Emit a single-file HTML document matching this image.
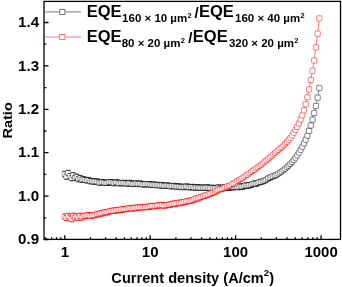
<!DOCTYPE html>
<html><head><meta charset="utf-8"><title>Ratio vs current density</title>
<style>
html,body{margin:0;padding:0;background:#fff;}
svg{display:block;font-family:"Liberation Sans",sans-serif;font-weight:bold;fill:#000;}
</style></head><body>
<svg width="342" height="287" viewBox="0 0 342 287">
<rect width="342" height="287" fill="#fff"/>
<path d="M64.8,174.1L66.5,176.7L68.2,172.9L69.9,176.1L71.6,178.0L73.3,175.3L75.1,178.0L76.8,176.8L78.5,179.2L80.2,178.2L81.9,179.7L83.6,179.3L85.3,180.0L87.0,180.4L88.7,180.1L90.4,181.2L92.1,181.2L93.8,181.6L95.6,181.3L97.3,181.6L99.0,182.4L100.7,182.7L102.4,182.1L104.1,182.6L105.8,182.8L107.5,182.9L109.2,182.2L110.9,182.2L112.6,182.4L114.3,183.1L116.1,182.4L117.8,182.8L119.5,183.3L121.2,183.0L122.9,183.2L124.6,182.9L126.3,183.3L128.0,183.5L129.7,182.9L131.4,183.6L133.1,183.9L134.8,183.8L136.6,183.5L138.3,184.0L140.0,183.6L141.7,184.0L143.4,184.4L145.1,184.1L146.8,184.2L148.5,184.2L150.2,184.2L151.9,184.9L153.6,184.7L155.3,184.8L157.1,185.1L158.8,184.9L160.5,185.4L162.2,185.2L163.9,185.7L165.6,185.9L167.3,185.5L169.0,185.9L170.7,186.2L172.4,186.1L174.1,185.9L175.8,186.4L177.6,186.6L179.3,186.6L181.0,187.0L182.7,186.8L184.4,187.1L186.1,186.7L187.8,186.7L189.5,187.3L191.2,187.1L192.9,187.0L194.6,187.6L196.3,187.3L198.1,187.6L199.8,187.7L201.5,187.8L203.2,187.7L204.9,187.9L206.6,187.6L208.3,187.6L210.0,188.1L211.7,187.8L213.4,188.2L215.1,188.0L216.8,188.0L218.6,187.6L220.3,188.2L222.0,187.8L223.7,187.8L225.4,187.6L227.1,187.4L228.8,187.8L230.5,187.5L232.2,186.9L233.9,187.3L235.6,186.9L237.3,187.0L239.1,187.1L240.8,186.5L242.5,186.7L244.2,186.2L245.9,185.4L247.6,185.7L249.3,185.2L251.0,185.0L252.7,184.0L254.4,183.6L256.1,183.7L257.8,183.0L259.6,182.0L261.3,181.9L263.0,181.3L264.7,180.7L266.4,179.8L268.1,178.6L269.8,177.7L271.5,177.0L273.2,176.2L274.9,175.5L276.6,175.0L278.4,173.7L280.1,172.6L281.8,171.5L283.5,170.1L285.2,168.9L286.9,167.3L288.6,165.7L290.3,164.0L292.0,162.2L293.7,160.1L295.4,157.7L297.1,155.2L298.9,152.7L300.6,149.9L302.3,146.8L304.0,143.4L305.7,139.7L307.4,135.6L309.1,130.8L310.8,125.5L312.5,119.6L314.2,113.0L315.9,106.0L317.6,97.7L319.4,88.0" fill="none" stroke="#1c1c1c" stroke-width="0.55"/>
<g fill="#fff" stroke="#1c1c1c" stroke-width="0.55">
<rect x="62.20" y="171.46" width="5.2" height="5.2" rx="0.5" stroke-width="0.42"/><path d="M62.70,171.46h4.20M62.70,176.66h4.20" stroke-width="0.85"/><rect x="63.91" y="174.07" width="5.2" height="5.2" rx="0.5" stroke-width="0.42"/><path d="M64.41,174.07h4.20M64.41,179.27h4.20" stroke-width="0.85"/><rect x="65.62" y="170.34" width="5.2" height="5.2" rx="0.62" stroke-width="0.43"/><path d="M66.24,170.34h3.96M66.24,175.54h3.96" stroke-width="0.84"/><rect x="67.33" y="173.54" width="5.2" height="5.2" rx="0.97" stroke-width="0.44"/><path d="M68.30,173.54h3.26M68.30,178.74h3.26" stroke-width="0.8"/><rect x="69.03" y="175.45" width="5.2" height="5.2" rx="0.73" stroke-width="0.43"/><path d="M69.76,175.45h3.74M69.76,180.65h3.74" stroke-width="0.82"/><rect x="70.74" y="172.71" width="5.2" height="5.2" rx="0.52" stroke-width="0.42"/><path d="M71.26,172.71h4.16M71.26,177.91h4.16" stroke-width="0.85"/><rect x="72.45" y="175.36" width="5.2" height="5.2" rx="0.51" stroke-width="0.42"/><path d="M72.96,175.36h4.18M72.96,180.56h4.18" stroke-width="0.85"/><rect x="74.16" y="174.20" width="5.2" height="5.2" rx="0.51" stroke-width="0.42"/><path d="M74.67,174.20h4.18M74.67,179.40h4.18" stroke-width="0.85"/><rect x="75.87" y="176.58" width="5.2" height="5.2" rx="0.5" stroke-width="0.42"/><path d="M76.37,176.58h4.20M76.37,181.78h4.20" stroke-width="0.85"/><rect x="77.58" y="175.57" width="5.2" height="5.2" rx="0.5" stroke-width="0.42"/><path d="M78.08,175.57h4.20M78.08,180.77h4.20" stroke-width="0.85"/><rect x="79.28" y="177.11" width="5.2" height="5.2" rx="0.51" stroke-width="0.42"/><path d="M79.79,177.11h4.18M79.79,182.31h4.18" stroke-width="0.85"/><rect x="80.99" y="176.66" width="5.2" height="5.2" rx="0.51" stroke-width="0.42"/><path d="M81.50,176.66h4.18M81.50,181.86h4.18" stroke-width="0.85"/><rect x="82.70" y="177.36" width="5.2" height="5.2" rx="0.5" stroke-width="0.42"/><path d="M83.20,177.36h4.20M83.20,182.56h4.20" stroke-width="0.85"/><rect x="84.41" y="177.77" width="5.2" height="5.2" rx="0.5" stroke-width="0.42"/><path d="M84.91,177.77h4.20M84.91,182.97h4.20" stroke-width="0.85"/><rect x="86.12" y="177.48" width="5.2" height="5.2" rx="0.5" stroke-width="0.42"/><path d="M86.62,177.48h4.20M86.62,182.68h4.20" stroke-width="0.85"/><rect x="87.83" y="178.58" width="5.2" height="5.2" rx="0.5" stroke-width="0.42"/><path d="M88.33,178.58h4.20M88.33,183.78h4.20" stroke-width="0.85"/><rect x="89.53" y="178.57" width="5.2" height="5.2" rx="0.5" stroke-width="0.42"/><path d="M90.03,178.57h4.20M90.03,183.77h4.20" stroke-width="0.85"/><rect x="91.24" y="178.99" width="5.2" height="5.2" rx="0.5" stroke-width="0.42"/><path d="M91.74,178.99h4.20M91.74,184.19h4.20" stroke-width="0.85"/><rect x="92.95" y="178.75" width="5.2" height="5.2" rx="0.5" stroke-width="0.42"/><path d="M93.45,178.75h4.20M93.45,183.95h4.20" stroke-width="0.85"/><rect x="94.66" y="179.01" width="5.2" height="5.2" rx="0.5" stroke-width="0.42"/><path d="M95.16,179.01h4.20M95.16,184.21h4.20" stroke-width="0.85"/><rect x="96.37" y="179.79" width="5.2" height="5.2" rx="0.5" stroke-width="0.42"/><path d="M96.87,179.79h4.20M96.87,184.99h4.20" stroke-width="0.85"/><rect x="98.08" y="180.08" width="5.2" height="5.2" rx="0.5" stroke-width="0.42"/><path d="M98.58,180.08h4.20M98.58,185.28h4.20" stroke-width="0.85"/><rect x="99.78" y="179.48" width="5.2" height="5.2" rx="0.5" stroke-width="0.42"/><path d="M100.28,179.48h4.20M100.28,184.68h4.20" stroke-width="0.85"/><rect x="101.49" y="179.96" width="5.2" height="5.2" rx="0.5" stroke-width="0.42"/><path d="M101.99,179.96h4.20M101.99,185.16h4.20" stroke-width="0.85"/><rect x="103.20" y="180.22" width="5.2" height="5.2" rx="0.5" stroke-width="0.42"/><path d="M103.70,180.22h4.20M103.70,185.42h4.20" stroke-width="0.85"/><rect x="104.91" y="180.30" width="5.2" height="5.2" rx="0.5" stroke-width="0.42"/><path d="M105.41,180.30h4.20M105.41,185.50h4.20" stroke-width="0.85"/><rect x="106.62" y="179.56" width="5.2" height="5.2" rx="0.5" stroke-width="0.42"/><path d="M107.12,179.56h4.20M107.12,184.76h4.20" stroke-width="0.85"/><rect x="108.33" y="179.59" width="5.2" height="5.2" rx="0.5" stroke-width="0.42"/><path d="M108.83,179.59h4.20M108.83,184.79h4.20" stroke-width="0.85"/><rect x="110.04" y="179.77" width="5.2" height="5.2" rx="0.5" stroke-width="0.42"/><path d="M110.54,179.77h4.20M110.54,184.97h4.20" stroke-width="0.85"/><rect x="111.74" y="180.49" width="5.2" height="5.2" rx="0.5" stroke-width="0.42"/><path d="M112.24,180.49h4.20M112.24,185.69h4.20" stroke-width="0.85"/><rect x="113.45" y="179.81" width="5.2" height="5.2" rx="0.5" stroke-width="0.42"/><path d="M113.95,179.81h4.20M113.95,185.01h4.20" stroke-width="0.85"/><rect x="115.16" y="180.15" width="5.2" height="5.2" rx="0.5" stroke-width="0.42"/><path d="M115.66,180.15h4.20M115.66,185.35h4.20" stroke-width="0.85"/><rect x="116.87" y="180.70" width="5.2" height="5.2" rx="0.5" stroke-width="0.42"/><path d="M117.37,180.70h4.20M117.37,185.90h4.20" stroke-width="0.85"/><rect x="118.58" y="180.37" width="5.2" height="5.2" rx="0.5" stroke-width="0.42"/><path d="M119.08,180.37h4.20M119.08,185.57h4.20" stroke-width="0.85"/><rect x="120.29" y="180.58" width="5.2" height="5.2" rx="0.5" stroke-width="0.42"/><path d="M120.79,180.58h4.20M120.79,185.78h4.20" stroke-width="0.85"/><rect x="121.99" y="180.32" width="5.2" height="5.2" rx="0.5" stroke-width="0.42"/><path d="M122.49,180.32h4.20M122.49,185.52h4.20" stroke-width="0.85"/><rect x="123.70" y="180.73" width="5.2" height="5.2" rx="0.5" stroke-width="0.42"/><path d="M124.20,180.73h4.20M124.20,185.93h4.20" stroke-width="0.85"/><rect x="125.41" y="180.93" width="5.2" height="5.2" rx="0.5" stroke-width="0.42"/><path d="M125.91,180.93h4.20M125.91,186.13h4.20" stroke-width="0.85"/><rect x="127.12" y="180.32" width="5.2" height="5.2" rx="0.5" stroke-width="0.42"/><path d="M127.62,180.32h4.20M127.62,185.52h4.20" stroke-width="0.85"/><rect x="128.83" y="181.03" width="5.2" height="5.2" rx="0.5" stroke-width="0.42"/><path d="M129.33,181.03h4.20M129.33,186.23h4.20" stroke-width="0.85"/><rect x="130.54" y="181.32" width="5.2" height="5.2" rx="0.5" stroke-width="0.42"/><path d="M131.04,181.32h4.20M131.04,186.52h4.20" stroke-width="0.85"/><rect x="132.24" y="181.21" width="5.2" height="5.2" rx="0.5" stroke-width="0.42"/><path d="M132.74,181.21h4.20M132.74,186.41h4.20" stroke-width="0.85"/><rect x="133.95" y="180.92" width="5.2" height="5.2" rx="0.5" stroke-width="0.42"/><path d="M134.45,180.92h4.20M134.45,186.12h4.20" stroke-width="0.85"/><rect x="135.66" y="181.44" width="5.2" height="5.2" rx="0.5" stroke-width="0.42"/><path d="M136.16,181.44h4.20M136.16,186.64h4.20" stroke-width="0.85"/><rect x="137.37" y="180.97" width="5.2" height="5.2" rx="0.5" stroke-width="0.42"/><path d="M137.87,180.97h4.20M137.87,186.17h4.20" stroke-width="0.85"/><rect x="139.08" y="181.36" width="5.2" height="5.2" rx="0.5" stroke-width="0.42"/><path d="M139.58,181.36h4.20M139.58,186.56h4.20" stroke-width="0.85"/><rect x="140.79" y="181.85" width="5.2" height="5.2" rx="0.5" stroke-width="0.42"/><path d="M141.29,181.85h4.20M141.29,187.05h4.20" stroke-width="0.85"/><rect x="142.49" y="181.47" width="5.2" height="5.2" rx="0.5" stroke-width="0.42"/><path d="M142.99,181.47h4.20M142.99,186.67h4.20" stroke-width="0.85"/><rect x="144.20" y="181.59" width="5.2" height="5.2" rx="0.5" stroke-width="0.42"/><path d="M144.70,181.59h4.20M144.70,186.79h4.20" stroke-width="0.85"/><rect x="145.91" y="181.60" width="5.2" height="5.2" rx="0.5" stroke-width="0.42"/><path d="M146.41,181.60h4.20M146.41,186.80h4.20" stroke-width="0.85"/><rect x="147.62" y="181.64" width="5.2" height="5.2" rx="0.5" stroke-width="0.42"/><path d="M148.12,181.64h4.20M148.12,186.84h4.20" stroke-width="0.85"/><rect x="149.33" y="182.29" width="5.2" height="5.2" rx="0.5" stroke-width="0.42"/><path d="M149.83,182.29h4.20M149.83,187.49h4.20" stroke-width="0.85"/><rect x="151.04" y="182.06" width="5.2" height="5.2" rx="0.5" stroke-width="0.42"/><path d="M151.54,182.06h4.20M151.54,187.26h4.20" stroke-width="0.85"/><rect x="152.75" y="182.23" width="5.2" height="5.2" rx="0.5" stroke-width="0.42"/><path d="M153.25,182.23h4.20M153.25,187.43h4.20" stroke-width="0.85"/><rect x="154.45" y="182.53" width="5.2" height="5.2" rx="0.5" stroke-width="0.42"/><path d="M154.95,182.53h4.20M154.95,187.73h4.20" stroke-width="0.85"/><rect x="156.16" y="182.31" width="5.2" height="5.2" rx="0.5" stroke-width="0.42"/><path d="M156.66,182.31h4.20M156.66,187.51h4.20" stroke-width="0.85"/><rect x="157.87" y="182.83" width="5.2" height="5.2" rx="0.5" stroke-width="0.42"/><path d="M158.37,182.83h4.20M158.37,188.03h4.20" stroke-width="0.85"/><rect x="159.58" y="182.62" width="5.2" height="5.2" rx="0.5" stroke-width="0.42"/><path d="M160.08,182.62h4.20M160.08,187.82h4.20" stroke-width="0.85"/><rect x="161.29" y="183.07" width="5.2" height="5.2" rx="0.5" stroke-width="0.42"/><path d="M161.79,183.07h4.20M161.79,188.27h4.20" stroke-width="0.85"/><rect x="163.00" y="183.28" width="5.2" height="5.2" rx="0.5" stroke-width="0.42"/><path d="M163.50,183.28h4.20M163.50,188.48h4.20" stroke-width="0.85"/><rect x="164.70" y="182.94" width="5.2" height="5.2" rx="0.5" stroke-width="0.42"/><path d="M165.20,182.94h4.20M165.20,188.14h4.20" stroke-width="0.85"/><rect x="166.41" y="183.29" width="5.2" height="5.2" rx="0.5" stroke-width="0.42"/><path d="M166.91,183.29h4.20M166.91,188.49h4.20" stroke-width="0.85"/><rect x="168.12" y="183.61" width="5.2" height="5.2" rx="0.5" stroke-width="0.42"/><path d="M168.62,183.61h4.20M168.62,188.81h4.20" stroke-width="0.85"/><rect x="169.83" y="183.51" width="5.2" height="5.2" rx="0.5" stroke-width="0.42"/><path d="M170.33,183.51h4.20M170.33,188.71h4.20" stroke-width="0.85"/><rect x="171.54" y="183.34" width="5.2" height="5.2" rx="0.5" stroke-width="0.42"/><path d="M172.04,183.34h4.20M172.04,188.54h4.20" stroke-width="0.85"/><rect x="173.25" y="183.81" width="5.2" height="5.2" rx="0.5" stroke-width="0.42"/><path d="M173.75,183.81h4.20M173.75,189.01h4.20" stroke-width="0.85"/><rect x="174.95" y="184.00" width="5.2" height="5.2" rx="0.5" stroke-width="0.42"/><path d="M175.45,184.00h4.20M175.45,189.20h4.20" stroke-width="0.85"/><rect x="176.66" y="183.98" width="5.2" height="5.2" rx="0.5" stroke-width="0.42"/><path d="M177.16,183.98h4.20M177.16,189.18h4.20" stroke-width="0.85"/><rect x="178.37" y="184.38" width="5.2" height="5.2" rx="0.5" stroke-width="0.42"/><path d="M178.87,184.38h4.20M178.87,189.58h4.20" stroke-width="0.85"/><rect x="180.08" y="184.21" width="5.2" height="5.2" rx="0.5" stroke-width="0.42"/><path d="M180.58,184.21h4.20M180.58,189.41h4.20" stroke-width="0.85"/><rect x="181.79" y="184.53" width="5.2" height="5.2" rx="0.5" stroke-width="0.42"/><path d="M182.29,184.53h4.20M182.29,189.73h4.20" stroke-width="0.85"/><rect x="183.50" y="184.05" width="5.2" height="5.2" rx="0.5" stroke-width="0.42"/><path d="M184.00,184.05h4.20M184.00,189.25h4.20" stroke-width="0.85"/><rect x="185.20" y="184.14" width="5.2" height="5.2" rx="0.5" stroke-width="0.42"/><path d="M185.70,184.14h4.20M185.70,189.34h4.20" stroke-width="0.85"/><rect x="186.91" y="184.70" width="5.2" height="5.2" rx="0.5" stroke-width="0.42"/><path d="M187.41,184.70h4.20M187.41,189.90h4.20" stroke-width="0.85"/><rect x="188.62" y="184.48" width="5.2" height="5.2" rx="0.5" stroke-width="0.42"/><path d="M189.12,184.48h4.20M189.12,189.68h4.20" stroke-width="0.85"/><rect x="190.33" y="184.39" width="5.2" height="5.2" rx="0.5" stroke-width="0.42"/><path d="M190.83,184.39h4.20M190.83,189.59h4.20" stroke-width="0.85"/><rect x="192.04" y="185.01" width="5.2" height="5.2" rx="0.5" stroke-width="0.42"/><path d="M192.54,185.01h4.20M192.54,190.21h4.20" stroke-width="0.85"/><rect x="193.75" y="184.66" width="5.2" height="5.2" rx="0.5" stroke-width="0.42"/><path d="M194.25,184.66h4.20M194.25,189.86h4.20" stroke-width="0.85"/><rect x="195.46" y="185.01" width="5.2" height="5.2" rx="0.5" stroke-width="0.42"/><path d="M195.96,185.01h4.20M195.96,190.21h4.20" stroke-width="0.85"/><rect x="197.16" y="185.06" width="5.2" height="5.2" rx="0.5" stroke-width="0.42"/><path d="M197.66,185.06h4.20M197.66,190.26h4.20" stroke-width="0.85"/><rect x="198.87" y="185.23" width="5.2" height="5.2" rx="0.5" stroke-width="0.42"/><path d="M199.37,185.23h4.20M199.37,190.43h4.20" stroke-width="0.85"/><rect x="200.58" y="185.10" width="5.2" height="5.2" rx="0.5" stroke-width="0.42"/><path d="M201.08,185.10h4.20M201.08,190.30h4.20" stroke-width="0.85"/><rect x="202.29" y="185.25" width="5.2" height="5.2" rx="0.5" stroke-width="0.42"/><path d="M202.79,185.25h4.20M202.79,190.45h4.20" stroke-width="0.85"/><rect x="204.00" y="185.02" width="5.2" height="5.2" rx="0.5" stroke-width="0.42"/><path d="M204.50,185.02h4.20M204.50,190.22h4.20" stroke-width="0.85"/><rect x="205.71" y="185.02" width="5.2" height="5.2" rx="0.5" stroke-width="0.42"/><path d="M206.21,185.02h4.20M206.21,190.22h4.20" stroke-width="0.85"/><rect x="207.41" y="185.52" width="5.2" height="5.2" rx="0.5" stroke-width="0.42"/><path d="M207.91,185.52h4.20M207.91,190.72h4.20" stroke-width="0.85"/><rect x="209.12" y="185.22" width="5.2" height="5.2" rx="0.5" stroke-width="0.42"/><path d="M209.62,185.22h4.20M209.62,190.42h4.20" stroke-width="0.85"/><rect x="210.83" y="185.62" width="5.2" height="5.2" rx="0.5" stroke-width="0.42"/><path d="M211.33,185.62h4.20M211.33,190.82h4.20" stroke-width="0.85"/><rect x="212.54" y="185.42" width="5.2" height="5.2" rx="0.5" stroke-width="0.42"/><path d="M213.04,185.42h4.20M213.04,190.62h4.20" stroke-width="0.85"/><rect x="214.25" y="185.38" width="5.2" height="5.2" rx="0.5" stroke-width="0.42"/><path d="M214.75,185.38h4.20M214.75,190.58h4.20" stroke-width="0.85"/><rect x="215.96" y="184.99" width="5.2" height="5.2" rx="0.5" stroke-width="0.42"/><path d="M216.46,184.99h4.20M216.46,190.19h4.20" stroke-width="0.85"/><rect x="217.66" y="185.55" width="5.2" height="5.2" rx="0.5" stroke-width="0.42"/><path d="M218.16,185.55h4.20M218.16,190.75h4.20" stroke-width="0.85"/><rect x="219.37" y="185.15" width="5.2" height="5.2" rx="0.5" stroke-width="0.42"/><path d="M219.87,185.15h4.20M219.87,190.35h4.20" stroke-width="0.85"/><rect x="221.08" y="185.20" width="5.2" height="5.2" rx="0.5" stroke-width="0.42"/><path d="M221.58,185.20h4.20M221.58,190.40h4.20" stroke-width="0.85"/><rect x="222.79" y="185.02" width="5.2" height="5.2" rx="0.5" stroke-width="0.42"/><path d="M223.29,185.02h4.20M223.29,190.22h4.20" stroke-width="0.85"/><rect x="224.50" y="184.82" width="5.2" height="5.2" rx="0.5" stroke-width="0.42"/><path d="M225.00,184.82h4.20M225.00,190.02h4.20" stroke-width="0.85"/><rect x="226.21" y="185.20" width="5.2" height="5.2" rx="0.5" stroke-width="0.42"/><path d="M226.71,185.20h4.20M226.71,190.40h4.20" stroke-width="0.85"/><rect x="227.91" y="184.85" width="5.2" height="5.2" rx="0.5" stroke-width="0.42"/><path d="M228.41,184.85h4.20M228.41,190.05h4.20" stroke-width="0.85"/><rect x="229.62" y="184.33" width="5.2" height="5.2" rx="0.5" stroke-width="0.42"/><path d="M230.12,184.33h4.20M230.12,189.53h4.20" stroke-width="0.85"/><rect x="231.33" y="184.66" width="5.2" height="5.2" rx="0.5" stroke-width="0.42"/><path d="M231.83,184.66h4.20M231.83,189.86h4.20" stroke-width="0.85"/><rect x="233.04" y="184.34" width="5.2" height="5.2" rx="0.5" stroke-width="0.42"/><path d="M233.54,184.34h4.20M233.54,189.54h4.20" stroke-width="0.85"/><rect x="234.75" y="184.36" width="5.2" height="5.2" rx="0.5" stroke-width="0.42"/><path d="M235.25,184.36h4.20M235.25,189.56h4.20" stroke-width="0.85"/><rect x="236.46" y="184.47" width="5.2" height="5.2" rx="0.5" stroke-width="0.42"/><path d="M236.96,184.47h4.20M236.96,189.67h4.20" stroke-width="0.85"/><rect x="238.17" y="183.91" width="5.2" height="5.2" rx="0.5" stroke-width="0.42"/><path d="M238.67,183.91h4.20M238.67,189.11h4.20" stroke-width="0.85"/><rect x="239.87" y="184.07" width="5.2" height="5.2" rx="0.5" stroke-width="0.42"/><path d="M240.37,184.07h4.20M240.37,189.27h4.20" stroke-width="0.85"/><rect x="241.58" y="183.58" width="5.2" height="5.2" rx="0.5" stroke-width="0.42"/><path d="M242.08,183.58h4.20M242.08,188.78h4.20" stroke-width="0.85"/><rect x="243.29" y="182.82" width="5.2" height="5.2" rx="0.5" stroke-width="0.42"/><path d="M243.79,182.82h4.20M243.79,188.02h4.20" stroke-width="0.85"/><rect x="245.00" y="183.12" width="5.2" height="5.2" rx="0.5" stroke-width="0.42"/><path d="M245.50,183.12h4.20M245.50,188.32h4.20" stroke-width="0.85"/><rect x="246.71" y="182.58" width="5.2" height="5.2" rx="0.5" stroke-width="0.42"/><path d="M247.21,182.58h4.20M247.21,187.78h4.20" stroke-width="0.85"/><rect x="248.42" y="182.43" width="5.2" height="5.2" rx="0.5" stroke-width="0.42"/><path d="M248.92,182.43h4.20M248.92,187.63h4.20" stroke-width="0.85"/><rect x="250.12" y="181.44" width="5.2" height="5.2" rx="0.53" stroke-width="0.42"/><path d="M250.65,181.44h4.14M250.65,186.64h4.14" stroke-width="0.85"/><rect x="251.83" y="180.99" width="5.2" height="5.2" rx="0.58" stroke-width="0.42"/><path d="M252.41,180.99h4.04M252.41,186.19h4.04" stroke-width="0.84"/><rect x="253.54" y="181.08" width="5.2" height="5.2" rx="0.64" stroke-width="0.43"/><path d="M254.18,181.08h3.92M254.18,186.28h3.92" stroke-width="0.83"/><rect x="255.25" y="180.42" width="5.2" height="5.2" rx="0.7" stroke-width="0.43"/><path d="M255.95,180.42h3.80M255.95,185.62h3.80" stroke-width="0.83"/><rect x="256.96" y="179.44" width="5.2" height="5.2" rx="0.77" stroke-width="0.43"/><path d="M257.73,179.44h3.66M257.73,184.64h3.66" stroke-width="0.82"/><rect x="258.67" y="179.34" width="5.2" height="5.2" rx="0.88" stroke-width="0.44"/><path d="M259.55,179.34h3.44M259.55,184.54h3.44" stroke-width="0.81"/><rect x="260.37" y="178.68" width="5.2" height="5.2" rx="0.99" stroke-width="0.44"/><path d="M261.36,178.68h3.22M261.36,183.88h3.22" stroke-width="0.8"/><rect x="262.08" y="178.08" width="5.2" height="5.2" rx="1.08" stroke-width="0.45"/><path d="M263.16,178.08h3.04M263.16,183.28h3.04" stroke-width="0.79"/><rect x="263.79" y="177.18" width="5.2" height="5.2" rx="1.12" stroke-width="0.45"/><path d="M264.91,177.18h2.96M264.91,182.38h2.96" stroke-width="0.78"/><rect x="265.50" y="175.99" width="5.2" height="5.2" rx="1.14" stroke-width="0.45"/><path d="M266.64,175.99h2.92M266.64,181.19h2.92" stroke-width="0.78"/><rect x="267.21" y="175.15" width="5.2" height="5.2" rx="1.13" stroke-width="0.45"/><path d="M268.34,175.15h2.94M268.34,180.35h2.94" stroke-width="0.78"/><rect x="268.92" y="174.39" width="5.2" height="5.2" rx="1.15" stroke-width="0.45"/><path d="M270.07,174.39h2.90M270.07,179.59h2.90" stroke-width="0.78"/><rect x="270.62" y="173.60" width="5.2" height="5.2" rx="1.23" stroke-width="0.45"/><path d="M271.85,173.60h2.74M271.85,178.80h2.74" stroke-width="0.77"/><rect x="272.33" y="172.90" width="5.2" height="5.2" rx="1.37" stroke-width="0.46"/><path d="M273.70,172.90h2.46M273.70,178.10h2.46" stroke-width="0.76"/><rect x="274.04" y="172.37" width="5.2" height="5.2" rx="1.51" stroke-width="0.47"/><path d="M275.55,172.37h2.18M275.55,177.57h2.18" stroke-width="0.74"/><rect x="275.75" y="171.10" width="5.2" height="5.2" rx="1.63" stroke-width="0.47"/><path d="M277.38,171.10h1.94M277.38,176.30h1.94" stroke-width="0.73"/><rect x="277.46" y="170.00" width="5.2" height="5.2" rx="1.7" stroke-width="0.48"/><path d="M279.16,170.00h1.80M279.16,175.20h1.80" stroke-width="0.72"/><rect x="279.17" y="168.90" width="5.2" height="5.2" rx="1.7" stroke-width="0.49"/><path d="M280.87,168.90h1.80M280.87,174.10h1.80" stroke-width="0.69"/><rect x="280.88" y="167.50" width="5.2" height="5.2" rx="1.7" stroke-width="0.49"/><path d="M282.58,167.50h1.80M282.58,172.70h1.80" stroke-width="0.68"/><rect x="282.58" y="166.30" width="5.2" height="5.2" rx="1.7" stroke-width="0.5"/><path d="M284.28,166.30h1.80M284.28,171.50h1.80" stroke-width="0.66"/><rect x="284.29" y="164.70" width="5.2" height="5.2" rx="1.7" stroke-width="0.52"/><path d="M285.99,164.70h1.80M285.99,169.90h1.80" stroke-width="0.62"/><rect x="286.00" y="163.10" width="5.2" height="5.2" rx="1.7" stroke-width="0.52"/><path d="M287.70,163.10h1.80M287.70,168.30h1.80" stroke-width="0.62"/><rect x="287.71" y="161.40" width="5.2" height="5.2" rx="1.7" stroke-width="0.53"/><path d="M289.41,161.40h1.80M289.41,166.60h1.80" stroke-width="0.6"/><rect x="289.42" y="159.60" width="5.2" height="5.2" rx="1.7" stroke-width="0.55"/><path d="M291.12,159.60h1.80M291.12,164.80h1.80" stroke-width="0.56"/><rect x="291.13" y="157.50" width="5.2" height="5.2" rx="1.7"/><rect x="292.83" y="155.10" width="5.2" height="5.2" rx="1.7"/><rect x="294.54" y="152.60" width="5.2" height="5.2" rx="1.7"/><rect x="296.25" y="150.10" width="5.2" height="5.2" rx="1.63"/><rect x="297.96" y="147.30" width="5.2" height="5.2" rx="1.48"/><rect x="299.67" y="144.20" width="5.2" height="5.2" rx="1.32"/><rect x="301.38" y="140.80" width="5.2" height="5.2" rx="1.17"/><rect x="303.08" y="137.10" width="5.2" height="5.2" rx="1.0"/><rect x="304.79" y="133.00" width="5.2" height="5.2" rx="0.73"/><rect x="306.50" y="128.20" width="5.2" height="5.2" rx="0.7"/><rect x="308.21" y="122.90" width="5.2" height="5.2" rx="0.7"/><rect x="309.92" y="117.00" width="5.2" height="5.2" rx="0.7"/><rect x="311.63" y="110.40" width="5.2" height="5.2" rx="0.7"/><rect x="313.33" y="103.40" width="5.2" height="5.2" rx="0.7"/><rect x="315.04" y="95.10" width="5.2" height="5.2" rx="0.7"/><rect x="316.75" y="85.40" width="5.2" height="5.2" rx="0.7"/>
</g>
<path d="M64.8,216.7L66.5,218.0L68.2,216.0L69.9,217.7L71.6,219.1L73.3,215.8L75.1,217.6L76.8,216.3L78.5,217.6L80.2,215.9L81.9,217.5L83.6,215.9L85.3,216.1L87.0,215.5L88.7,215.3L90.4,215.8L92.1,215.6L93.8,215.0L95.6,215.1L97.3,214.0L99.0,214.1L100.7,213.3L102.4,213.3L104.1,212.5L105.8,212.2L107.5,212.2L109.2,211.5L110.9,211.0L112.6,210.8L114.3,210.7L116.1,210.5L117.8,210.0L119.5,210.1L121.2,209.7L122.9,209.4L124.6,209.0L126.3,209.1L128.0,208.6L129.7,208.0L131.4,208.3L133.1,208.4L134.8,207.8L136.6,208.0L138.3,207.4L140.0,207.5L141.7,207.2L143.4,207.0L145.1,207.2L146.8,206.8L148.5,207.0L150.2,206.5L151.9,206.0L153.6,206.0L155.3,206.2L157.1,205.7L158.8,205.3L160.5,205.3L162.2,205.0L163.9,205.5L165.6,205.3L167.3,205.0L169.0,204.7L170.7,204.6L172.4,203.9L174.1,203.8L175.8,203.7L177.6,203.2L179.3,202.7L181.0,203.1L182.7,202.4L184.4,202.1L186.1,201.6L187.8,201.2L189.5,200.8L191.2,200.7L192.9,200.1L194.6,199.3L196.3,198.4L198.1,198.4L199.8,197.4L201.5,197.1L203.2,196.1L204.9,195.9L206.6,195.1L208.3,194.5L210.0,193.8L211.7,193.1L213.4,192.5L215.1,192.1L216.8,190.7L218.6,190.1L220.3,189.2L222.0,189.0L223.7,188.2L225.4,187.2L227.1,186.7L228.8,186.1L230.5,185.3L232.2,184.0L233.9,183.5L235.6,182.4L237.3,180.8L239.1,180.3L240.8,179.1L242.5,178.0L244.2,176.7L245.9,175.4L247.6,174.7L249.3,173.3L251.0,172.0L252.7,170.7L254.4,169.9L256.1,168.3L257.8,167.2L259.6,165.9L261.3,164.7L263.0,163.3L264.7,161.6L266.4,160.5L268.1,159.0L269.8,157.6L271.5,156.2L273.2,154.5L274.9,152.9L276.6,151.4L278.4,150.0L280.1,148.3L281.8,147.2L283.5,145.4L285.2,143.7L286.9,142.1L288.6,140.1L290.3,137.9L292.0,135.5L293.7,132.8L295.4,129.9L297.1,126.9L298.9,123.4L300.6,119.6L302.3,115.3L304.0,110.3L305.7,104.3L307.4,97.3L309.1,89.4L310.8,80.0L312.5,70.7L314.2,60.5L315.9,47.3L317.6,33.7L319.4,18.4" fill="none" stroke="#fa0f0f" stroke-width="0.55"/>
<g fill="#fff" stroke="#fa0f0f" stroke-width="0.55">
<rect x="62.20" y="214.09" width="5.2" height="5.2" rx="0.5" stroke-width="0.42"/><path d="M62.70,214.09h4.20M62.70,219.29h4.20" stroke-width="0.85"/><rect x="63.91" y="215.36" width="5.2" height="5.2" rx="0.5" stroke-width="0.42"/><path d="M64.41,215.36h4.20M64.41,220.56h4.20" stroke-width="0.85"/><rect x="65.62" y="213.35" width="5.2" height="5.2" rx="0.5" stroke-width="0.42"/><path d="M66.12,213.35h4.20M66.12,218.55h4.20" stroke-width="0.85"/><rect x="67.33" y="215.10" width="5.2" height="5.2" rx="0.5" stroke-width="0.42"/><path d="M67.83,215.10h4.20M67.83,220.30h4.20" stroke-width="0.85"/><rect x="69.03" y="216.50" width="5.2" height="5.2" rx="0.5" stroke-width="0.42"/><path d="M69.53,216.50h4.20M69.53,221.70h4.20" stroke-width="0.85"/><rect x="70.74" y="213.18" width="5.2" height="5.2" rx="0.5" stroke-width="0.42"/><path d="M71.24,213.18h4.20M71.24,218.38h4.20" stroke-width="0.85"/><rect x="72.45" y="215.01" width="5.2" height="5.2" rx="0.5" stroke-width="0.42"/><path d="M72.95,215.01h4.20M72.95,220.21h4.20" stroke-width="0.85"/><rect x="74.16" y="213.70" width="5.2" height="5.2" rx="0.5" stroke-width="0.42"/><path d="M74.66,213.70h4.20M74.66,218.90h4.20" stroke-width="0.85"/><rect x="75.87" y="215.04" width="5.2" height="5.2" rx="0.5" stroke-width="0.42"/><path d="M76.37,215.04h4.20M76.37,220.24h4.20" stroke-width="0.85"/><rect x="77.58" y="213.27" width="5.2" height="5.2" rx="0.5" stroke-width="0.42"/><path d="M78.08,213.27h4.20M78.08,218.47h4.20" stroke-width="0.85"/><rect x="79.28" y="214.87" width="5.2" height="5.2" rx="0.5" stroke-width="0.42"/><path d="M79.78,214.87h4.20M79.78,220.07h4.20" stroke-width="0.85"/><rect x="80.99" y="213.35" width="5.2" height="5.2" rx="0.5" stroke-width="0.42"/><path d="M81.49,213.35h4.20M81.49,218.55h4.20" stroke-width="0.85"/><rect x="82.70" y="213.52" width="5.2" height="5.2" rx="0.5" stroke-width="0.42"/><path d="M83.20,213.52h4.20M83.20,218.72h4.20" stroke-width="0.85"/><rect x="84.41" y="212.95" width="5.2" height="5.2" rx="0.5" stroke-width="0.42"/><path d="M84.91,212.95h4.20M84.91,218.15h4.20" stroke-width="0.85"/><rect x="86.12" y="212.70" width="5.2" height="5.2" rx="0.5" stroke-width="0.42"/><path d="M86.62,212.70h4.20M86.62,217.90h4.20" stroke-width="0.85"/><rect x="87.83" y="213.18" width="5.2" height="5.2" rx="0.5" stroke-width="0.42"/><path d="M88.33,213.18h4.20M88.33,218.38h4.20" stroke-width="0.85"/><rect x="89.53" y="213.01" width="5.2" height="5.2" rx="0.5" stroke-width="0.42"/><path d="M90.03,213.01h4.20M90.03,218.21h4.20" stroke-width="0.85"/><rect x="91.24" y="212.35" width="5.2" height="5.2" rx="0.5" stroke-width="0.42"/><path d="M91.74,212.35h4.20M91.74,217.55h4.20" stroke-width="0.85"/><rect x="92.95" y="212.49" width="5.2" height="5.2" rx="0.5" stroke-width="0.42"/><path d="M93.45,212.49h4.20M93.45,217.69h4.20" stroke-width="0.85"/><rect x="94.66" y="211.37" width="5.2" height="5.2" rx="0.5" stroke-width="0.42"/><path d="M95.16,211.37h4.20M95.16,216.57h4.20" stroke-width="0.85"/><rect x="96.37" y="211.52" width="5.2" height="5.2" rx="0.5" stroke-width="0.42"/><path d="M96.87,211.52h4.20M96.87,216.72h4.20" stroke-width="0.85"/><rect x="98.08" y="210.70" width="5.2" height="5.2" rx="0.5" stroke-width="0.42"/><path d="M98.58,210.70h4.20M98.58,215.90h4.20" stroke-width="0.85"/><rect x="99.78" y="210.69" width="5.2" height="5.2" rx="0.51" stroke-width="0.42"/><path d="M100.29,210.69h4.18M100.29,215.89h4.18" stroke-width="0.85"/><rect x="101.49" y="209.94" width="5.2" height="5.2" rx="0.53" stroke-width="0.42"/><path d="M102.02,209.94h4.14M102.02,215.14h4.14" stroke-width="0.85"/><rect x="103.20" y="209.56" width="5.2" height="5.2" rx="0.52" stroke-width="0.42"/><path d="M103.72,209.56h4.16M103.72,214.76h4.16" stroke-width="0.85"/><rect x="104.91" y="209.63" width="5.2" height="5.2" rx="0.5" stroke-width="0.42"/><path d="M105.41,209.63h4.20M105.41,214.83h4.20" stroke-width="0.85"/><rect x="106.62" y="208.89" width="5.2" height="5.2" rx="0.5" stroke-width="0.42"/><path d="M107.12,208.89h4.20M107.12,214.09h4.20" stroke-width="0.85"/><rect x="108.33" y="208.44" width="5.2" height="5.2" rx="0.5" stroke-width="0.42"/><path d="M108.83,208.44h4.20M108.83,213.64h4.20" stroke-width="0.85"/><rect x="110.04" y="208.25" width="5.2" height="5.2" rx="0.5" stroke-width="0.42"/><path d="M110.54,208.25h4.20M110.54,213.45h4.20" stroke-width="0.85"/><rect x="111.74" y="208.08" width="5.2" height="5.2" rx="0.5" stroke-width="0.42"/><path d="M112.24,208.08h4.20M112.24,213.28h4.20" stroke-width="0.85"/><rect x="113.45" y="207.91" width="5.2" height="5.2" rx="0.5" stroke-width="0.42"/><path d="M113.95,207.91h4.20M113.95,213.11h4.20" stroke-width="0.85"/><rect x="115.16" y="207.39" width="5.2" height="5.2" rx="0.5" stroke-width="0.42"/><path d="M115.66,207.39h4.20M115.66,212.59h4.20" stroke-width="0.85"/><rect x="116.87" y="207.51" width="5.2" height="5.2" rx="0.5" stroke-width="0.42"/><path d="M117.37,207.51h4.20M117.37,212.71h4.20" stroke-width="0.85"/><rect x="118.58" y="207.09" width="5.2" height="5.2" rx="0.5" stroke-width="0.42"/><path d="M119.08,207.09h4.20M119.08,212.29h4.20" stroke-width="0.85"/><rect x="120.29" y="206.81" width="5.2" height="5.2" rx="0.5" stroke-width="0.42"/><path d="M120.79,206.81h4.20M120.79,212.01h4.20" stroke-width="0.85"/><rect x="121.99" y="206.41" width="5.2" height="5.2" rx="0.5" stroke-width="0.42"/><path d="M122.49,206.41h4.20M122.49,211.61h4.20" stroke-width="0.85"/><rect x="123.70" y="206.48" width="5.2" height="5.2" rx="0.5" stroke-width="0.42"/><path d="M124.20,206.48h4.20M124.20,211.68h4.20" stroke-width="0.85"/><rect x="125.41" y="206.03" width="5.2" height="5.2" rx="0.5" stroke-width="0.42"/><path d="M125.91,206.03h4.20M125.91,211.23h4.20" stroke-width="0.85"/><rect x="127.12" y="205.44" width="5.2" height="5.2" rx="0.5" stroke-width="0.42"/><path d="M127.62,205.44h4.20M127.62,210.64h4.20" stroke-width="0.85"/><rect x="128.83" y="205.72" width="5.2" height="5.2" rx="0.5" stroke-width="0.42"/><path d="M129.33,205.72h4.20M129.33,210.92h4.20" stroke-width="0.85"/><rect x="130.54" y="205.77" width="5.2" height="5.2" rx="0.5" stroke-width="0.42"/><path d="M131.04,205.77h4.20M131.04,210.97h4.20" stroke-width="0.85"/><rect x="132.24" y="205.23" width="5.2" height="5.2" rx="0.5" stroke-width="0.42"/><path d="M132.74,205.23h4.20M132.74,210.43h4.20" stroke-width="0.85"/><rect x="133.95" y="205.41" width="5.2" height="5.2" rx="0.5" stroke-width="0.42"/><path d="M134.45,205.41h4.20M134.45,210.61h4.20" stroke-width="0.85"/><rect x="135.66" y="204.82" width="5.2" height="5.2" rx="0.5" stroke-width="0.42"/><path d="M136.16,204.82h4.20M136.16,210.02h4.20" stroke-width="0.85"/><rect x="137.37" y="204.86" width="5.2" height="5.2" rx="0.5" stroke-width="0.42"/><path d="M137.87,204.86h4.20M137.87,210.06h4.20" stroke-width="0.85"/><rect x="139.08" y="204.59" width="5.2" height="5.2" rx="0.5" stroke-width="0.42"/><path d="M139.58,204.59h4.20M139.58,209.79h4.20" stroke-width="0.85"/><rect x="140.79" y="204.45" width="5.2" height="5.2" rx="0.5" stroke-width="0.42"/><path d="M141.29,204.45h4.20M141.29,209.65h4.20" stroke-width="0.85"/><rect x="142.49" y="204.57" width="5.2" height="5.2" rx="0.5" stroke-width="0.42"/><path d="M142.99,204.57h4.20M142.99,209.77h4.20" stroke-width="0.85"/><rect x="144.20" y="204.22" width="5.2" height="5.2" rx="0.5" stroke-width="0.42"/><path d="M144.70,204.22h4.20M144.70,209.42h4.20" stroke-width="0.85"/><rect x="145.91" y="204.40" width="5.2" height="5.2" rx="0.5" stroke-width="0.42"/><path d="M146.41,204.40h4.20M146.41,209.60h4.20" stroke-width="0.85"/><rect x="147.62" y="203.91" width="5.2" height="5.2" rx="0.5" stroke-width="0.42"/><path d="M148.12,203.91h4.20M148.12,209.11h4.20" stroke-width="0.85"/><rect x="149.33" y="203.39" width="5.2" height="5.2" rx="0.5" stroke-width="0.42"/><path d="M149.83,203.39h4.20M149.83,208.59h4.20" stroke-width="0.85"/><rect x="151.04" y="203.44" width="5.2" height="5.2" rx="0.5" stroke-width="0.42"/><path d="M151.54,203.44h4.20M151.54,208.64h4.20" stroke-width="0.85"/><rect x="152.75" y="203.64" width="5.2" height="5.2" rx="0.5" stroke-width="0.42"/><path d="M153.25,203.64h4.20M153.25,208.84h4.20" stroke-width="0.85"/><rect x="154.45" y="203.13" width="5.2" height="5.2" rx="0.5" stroke-width="0.42"/><path d="M154.95,203.13h4.20M154.95,208.33h4.20" stroke-width="0.85"/><rect x="156.16" y="202.66" width="5.2" height="5.2" rx="0.5" stroke-width="0.42"/><path d="M156.66,202.66h4.20M156.66,207.86h4.20" stroke-width="0.85"/><rect x="157.87" y="202.66" width="5.2" height="5.2" rx="0.5" stroke-width="0.42"/><path d="M158.37,202.66h4.20M158.37,207.86h4.20" stroke-width="0.85"/><rect x="159.58" y="202.36" width="5.2" height="5.2" rx="0.5" stroke-width="0.42"/><path d="M160.08,202.36h4.20M160.08,207.56h4.20" stroke-width="0.85"/><rect x="161.29" y="202.91" width="5.2" height="5.2" rx="0.5" stroke-width="0.42"/><path d="M161.79,202.91h4.20M161.79,208.11h4.20" stroke-width="0.85"/><rect x="163.00" y="202.73" width="5.2" height="5.2" rx="0.5" stroke-width="0.42"/><path d="M163.50,202.73h4.20M163.50,207.93h4.20" stroke-width="0.85"/><rect x="164.70" y="202.43" width="5.2" height="5.2" rx="0.5" stroke-width="0.42"/><path d="M165.20,202.43h4.20M165.20,207.63h4.20" stroke-width="0.85"/><rect x="166.41" y="202.09" width="5.2" height="5.2" rx="0.5" stroke-width="0.42"/><path d="M166.91,202.09h4.20M166.91,207.29h4.20" stroke-width="0.85"/><rect x="168.12" y="202.01" width="5.2" height="5.2" rx="0.5" stroke-width="0.42"/><path d="M168.62,202.01h4.20M168.62,207.21h4.20" stroke-width="0.85"/><rect x="169.83" y="201.33" width="5.2" height="5.2" rx="0.5" stroke-width="0.42"/><path d="M170.33,201.33h4.20M170.33,206.53h4.20" stroke-width="0.85"/><rect x="171.54" y="201.16" width="5.2" height="5.2" rx="0.5" stroke-width="0.42"/><path d="M172.04,201.16h4.20M172.04,206.36h4.20" stroke-width="0.85"/><rect x="173.25" y="201.05" width="5.2" height="5.2" rx="0.5" stroke-width="0.42"/><path d="M173.75,201.05h4.20M173.75,206.25h4.20" stroke-width="0.85"/><rect x="174.95" y="200.63" width="5.2" height="5.2" rx="0.5" stroke-width="0.42"/><path d="M175.45,200.63h4.20M175.45,205.83h4.20" stroke-width="0.85"/><rect x="176.66" y="200.10" width="5.2" height="5.2" rx="0.5" stroke-width="0.42"/><path d="M177.16,200.10h4.20M177.16,205.30h4.20" stroke-width="0.85"/><rect x="178.37" y="200.48" width="5.2" height="5.2" rx="0.5" stroke-width="0.42"/><path d="M178.87,200.48h4.20M178.87,205.68h4.20" stroke-width="0.85"/><rect x="180.08" y="199.76" width="5.2" height="5.2" rx="0.5" stroke-width="0.42"/><path d="M180.58,199.76h4.20M180.58,204.96h4.20" stroke-width="0.85"/><rect x="181.79" y="199.47" width="5.2" height="5.2" rx="0.5" stroke-width="0.42"/><path d="M182.29,199.47h4.20M182.29,204.67h4.20" stroke-width="0.85"/><rect x="183.50" y="198.98" width="5.2" height="5.2" rx="0.5" stroke-width="0.42"/><path d="M184.00,198.98h4.20M184.00,204.18h4.20" stroke-width="0.85"/><rect x="185.20" y="198.56" width="5.2" height="5.2" rx="0.5" stroke-width="0.42"/><path d="M185.70,198.56h4.20M185.70,203.76h4.20" stroke-width="0.85"/><rect x="186.91" y="198.24" width="5.2" height="5.2" rx="0.56" stroke-width="0.42"/><path d="M187.47,198.24h4.08M187.47,203.44h4.08" stroke-width="0.84"/><rect x="188.62" y="198.11" width="5.2" height="5.2" rx="0.65" stroke-width="0.43"/><path d="M189.27,198.11h3.90M189.27,203.31h3.90" stroke-width="0.83"/><rect x="190.33" y="197.52" width="5.2" height="5.2" rx="0.74" stroke-width="0.43"/><path d="M191.07,197.52h3.72M191.07,202.72h3.72" stroke-width="0.82"/><rect x="192.04" y="196.70" width="5.2" height="5.2" rx="0.81" stroke-width="0.43"/><path d="M192.85,196.70h3.58M192.85,201.90h3.58" stroke-width="0.82"/><rect x="193.75" y="195.84" width="5.2" height="5.2" rx="0.84" stroke-width="0.44"/><path d="M194.59,195.84h3.52M194.59,201.04h3.52" stroke-width="0.81"/><rect x="195.46" y="195.80" width="5.2" height="5.2" rx="0.85" stroke-width="0.44"/><path d="M196.31,195.80h3.50M196.31,201.00h3.50" stroke-width="0.81"/><rect x="197.16" y="194.82" width="5.2" height="5.2" rx="0.83" stroke-width="0.44"/><path d="M197.99,194.82h3.54M197.99,200.02h3.54" stroke-width="0.81"/><rect x="198.87" y="194.45" width="5.2" height="5.2" rx="0.83" stroke-width="0.44"/><path d="M199.70,194.45h3.54M199.70,199.65h3.54" stroke-width="0.81"/><rect x="200.58" y="193.46" width="5.2" height="5.2" rx="0.84" stroke-width="0.44"/><path d="M201.42,193.46h3.52M201.42,198.66h3.52" stroke-width="0.81"/><rect x="202.29" y="193.32" width="5.2" height="5.2" rx="0.86" stroke-width="0.44"/><path d="M203.15,193.32h3.48M203.15,198.52h3.48" stroke-width="0.81"/><rect x="204.00" y="192.50" width="5.2" height="5.2" rx="0.88" stroke-width="0.44"/><path d="M204.88,192.50h3.44M204.88,197.70h3.44" stroke-width="0.81"/><rect x="205.71" y="191.95" width="5.2" height="5.2" rx="0.92" stroke-width="0.44"/><path d="M206.63,191.95h3.36M206.63,197.15h3.36" stroke-width="0.8"/><rect x="207.41" y="191.23" width="5.2" height="5.2" rx="0.97" stroke-width="0.44"/><path d="M208.38,191.23h3.26M208.38,196.43h3.26" stroke-width="0.8"/><rect x="209.12" y="190.50" width="5.2" height="5.2" rx="1.03" stroke-width="0.45"/><path d="M210.15,190.50h3.14M210.15,195.70h3.14" stroke-width="0.79"/><rect x="210.83" y="189.91" width="5.2" height="5.2" rx="1.08" stroke-width="0.45"/><path d="M211.91,189.91h3.04M211.91,195.11h3.04" stroke-width="0.79"/><rect x="212.54" y="189.47" width="5.2" height="5.2" rx="1.1" stroke-width="0.45"/><path d="M213.64,189.47h3.00M213.64,194.67h3.00" stroke-width="0.78"/><rect x="214.25" y="188.10" width="5.2" height="5.2" rx="1.11" stroke-width="0.45"/><path d="M215.36,188.10h2.98M215.36,193.30h2.98" stroke-width="0.78"/><rect x="215.96" y="187.49" width="5.2" height="5.2" rx="1.09" stroke-width="0.45"/><path d="M217.05,187.49h3.02M217.05,192.69h3.02" stroke-width="0.79"/><rect x="217.66" y="186.56" width="5.2" height="5.2" rx="1.04" stroke-width="0.45"/><path d="M218.70,186.56h3.12M218.70,191.76h3.12" stroke-width="0.79"/><rect x="219.37" y="186.36" width="5.2" height="5.2" rx="1.0" stroke-width="0.44"/><path d="M220.37,186.36h3.20M220.37,191.56h3.20" stroke-width="0.8"/><rect x="221.08" y="185.62" width="5.2" height="5.2" rx="0.98" stroke-width="0.44"/><path d="M222.06,185.62h3.24M222.06,190.82h3.24" stroke-width="0.8"/><rect x="222.79" y="184.63" width="5.2" height="5.2" rx="1.0" stroke-width="0.44"/><path d="M223.79,184.63h3.20M223.79,189.83h3.20" stroke-width="0.8"/><rect x="224.50" y="184.07" width="5.2" height="5.2" rx="1.07" stroke-width="0.45"/><path d="M225.57,184.07h3.06M225.57,189.27h3.06" stroke-width="0.79"/><rect x="226.21" y="183.47" width="5.2" height="5.2" rx="1.17" stroke-width="0.45"/><path d="M227.38,183.47h2.86M227.38,188.67h2.86" stroke-width="0.78"/><rect x="227.91" y="182.66" width="5.2" height="5.2" rx="1.31" stroke-width="0.46"/><path d="M229.22,182.66h2.58M229.22,187.86h2.58" stroke-width="0.76"/><rect x="229.62" y="181.39" width="5.2" height="5.2" rx="1.46" stroke-width="0.47"/><path d="M231.08,181.39h2.28M231.08,186.59h2.28" stroke-width="0.75"/><rect x="231.33" y="180.89" width="5.2" height="5.2" rx="1.57" stroke-width="0.47"/><path d="M232.90,180.89h2.06M232.90,186.09h2.06" stroke-width="0.73"/><rect x="233.04" y="179.77" width="5.2" height="5.2" rx="1.64" stroke-width="0.47"/><path d="M234.68,179.77h1.92M234.68,184.97h1.92" stroke-width="0.72"/><rect x="234.75" y="178.23" width="5.2" height="5.2" rx="1.68" stroke-width="0.48"/><path d="M236.43,178.23h1.84M236.43,183.43h1.84" stroke-width="0.72"/><rect x="236.46" y="177.66" width="5.2" height="5.2" rx="1.67" stroke-width="0.48"/><path d="M238.13,177.66h1.86M238.13,182.86h1.86" stroke-width="0.72"/><rect x="238.17" y="176.49" width="5.2" height="5.2" rx="1.67" stroke-width="0.48"/><path d="M239.84,176.49h1.86M239.84,181.69h1.86" stroke-width="0.72"/><rect x="239.87" y="175.44" width="5.2" height="5.2" rx="1.7" stroke-width="0.48"/><path d="M241.57,175.44h1.80M241.57,180.64h1.80" stroke-width="0.72"/><rect x="241.58" y="174.15" width="5.2" height="5.2" rx="1.7" stroke-width="0.48"/><path d="M243.28,174.15h1.80M243.28,179.35h1.80" stroke-width="0.72"/><rect x="243.29" y="172.79" width="5.2" height="5.2" rx="1.7" stroke-width="0.48"/><path d="M244.99,172.79h1.80M244.99,177.99h1.80" stroke-width="0.71"/><rect x="245.00" y="172.14" width="5.2" height="5.2" rx="1.7" stroke-width="0.48"/><path d="M246.70,172.14h1.80M246.70,177.34h1.80" stroke-width="0.71"/><rect x="246.71" y="170.74" width="5.2" height="5.2" rx="1.7" stroke-width="0.48"/><path d="M248.41,170.74h1.80M248.41,175.94h1.80" stroke-width="0.7"/><rect x="248.42" y="169.38" width="5.2" height="5.2" rx="1.7" stroke-width="0.48"/><path d="M250.12,169.38h1.80M250.12,174.58h1.80" stroke-width="0.7"/><rect x="250.12" y="168.12" width="5.2" height="5.2" rx="1.7" stroke-width="0.49"/><path d="M251.82,168.12h1.80M251.82,173.32h1.80" stroke-width="0.7"/><rect x="251.83" y="167.35" width="5.2" height="5.2" rx="1.7" stroke-width="0.49"/><path d="M253.53,167.35h1.80M253.53,172.55h1.80" stroke-width="0.69"/><rect x="253.54" y="165.75" width="5.2" height="5.2" rx="1.7" stroke-width="0.49"/><path d="M255.24,165.75h1.80M255.24,170.95h1.80" stroke-width="0.69"/><rect x="255.25" y="164.56" width="5.2" height="5.2" rx="1.7" stroke-width="0.49"/><path d="M256.95,164.56h1.80M256.95,169.76h1.80" stroke-width="0.68"/><rect x="256.96" y="163.32" width="5.2" height="5.2" rx="1.7" stroke-width="0.49"/><path d="M258.66,163.32h1.80M258.66,168.52h1.80" stroke-width="0.68"/><rect x="258.67" y="162.15" width="5.2" height="5.2" rx="1.7" stroke-width="0.5"/><path d="M260.37,162.15h1.80M260.37,167.35h1.80" stroke-width="0.67"/><rect x="260.37" y="160.66" width="5.2" height="5.2" rx="1.7" stroke-width="0.5"/><path d="M262.07,160.66h1.80M262.07,165.86h1.80" stroke-width="0.67"/><rect x="262.08" y="158.97" width="5.2" height="5.2" rx="1.7" stroke-width="0.5"/><path d="M263.78,158.97h1.80M263.78,164.17h1.80" stroke-width="0.67"/><rect x="263.79" y="157.86" width="5.2" height="5.2" rx="1.7" stroke-width="0.5"/><path d="M265.49,157.86h1.80M265.49,163.06h1.80" stroke-width="0.66"/><rect x="265.50" y="156.38" width="5.2" height="5.2" rx="1.7" stroke-width="0.5"/><path d="M267.20,156.38h1.80M267.20,161.58h1.80" stroke-width="0.66"/><rect x="267.21" y="154.98" width="5.2" height="5.2" rx="1.7" stroke-width="0.5"/><path d="M268.91,154.98h1.80M268.91,160.18h1.80" stroke-width="0.65"/><rect x="268.92" y="153.64" width="5.2" height="5.2" rx="1.7" stroke-width="0.51"/><path d="M270.62,153.64h1.80M270.62,158.84h1.80" stroke-width="0.65"/><rect x="270.62" y="151.87" width="5.2" height="5.2" rx="1.7" stroke-width="0.51"/><path d="M272.32,151.87h1.80M272.32,157.07h1.80" stroke-width="0.65"/><rect x="272.33" y="150.35" width="5.2" height="5.2" rx="1.7" stroke-width="0.51"/><path d="M274.03,150.35h1.80M274.03,155.55h1.80" stroke-width="0.65"/><rect x="274.04" y="148.80" width="5.2" height="5.2" rx="1.7" stroke-width="0.51"/><path d="M275.74,148.80h1.80M275.74,154.00h1.80" stroke-width="0.64"/><rect x="275.75" y="147.41" width="5.2" height="5.2" rx="1.7" stroke-width="0.51"/><path d="M277.45,147.41h1.80M277.45,152.61h1.80" stroke-width="0.64"/><rect x="277.46" y="145.70" width="5.2" height="5.2" rx="1.7" stroke-width="0.51"/><path d="M279.16,145.70h1.80M279.16,150.90h1.80" stroke-width="0.64"/><rect x="279.17" y="144.59" width="5.2" height="5.2" rx="1.7" stroke-width="0.51"/><path d="M280.87,144.59h1.80M280.87,149.79h1.80" stroke-width="0.63"/><rect x="280.88" y="142.78" width="5.2" height="5.2" rx="1.7" stroke-width="0.52"/><path d="M282.58,142.78h1.80M282.58,147.98h1.80" stroke-width="0.62"/><rect x="282.58" y="141.06" width="5.2" height="5.2" rx="1.7" stroke-width="0.53"/><path d="M284.28,141.06h1.80M284.28,146.26h1.80" stroke-width="0.6"/><rect x="284.29" y="139.50" width="5.2" height="5.2" rx="1.7" stroke-width="0.54"/><path d="M285.99,139.50h1.80M285.99,144.70h1.80" stroke-width="0.57"/><rect x="286.00" y="137.53" width="5.2" height="5.2" rx="1.7"/><rect x="287.71" y="135.32" width="5.2" height="5.2" rx="1.7"/><rect x="289.42" y="132.85" width="5.2" height="5.2" rx="1.66"/><rect x="291.13" y="130.16" width="5.2" height="5.2" rx="1.56"/><rect x="292.83" y="127.28" width="5.2" height="5.2" rx="1.48"/><rect x="294.54" y="124.30" width="5.2" height="5.2" rx="1.33"/><rect x="296.25" y="120.80" width="5.2" height="5.2" rx="1.12"/><rect x="297.96" y="117.00" width="5.2" height="5.2" rx="0.92"/><rect x="299.67" y="112.70" width="5.2" height="5.2" rx="0.7"/><rect x="301.38" y="107.70" width="5.2" height="5.2" rx="0.7"/><rect x="303.08" y="101.70" width="5.2" height="5.2" rx="0.7"/><rect x="304.79" y="94.70" width="5.2" height="5.2" rx="0.7"/><rect x="306.50" y="86.80" width="5.2" height="5.2" rx="0.7"/><rect x="308.21" y="77.40" width="5.2" height="5.2" rx="0.7"/><rect x="309.92" y="68.10" width="5.2" height="5.2" rx="0.7"/><rect x="311.63" y="57.90" width="5.2" height="5.2" rx="0.7"/><rect x="313.33" y="44.70" width="5.2" height="5.2" rx="0.7"/><rect x="315.04" y="31.10" width="5.2" height="5.2" rx="0.7"/><rect x="316.75" y="15.80" width="5.2" height="5.2" rx="0.7"/>
</g>
<rect x="44.0" y="1.4" width="296.5" height="238.0" fill="none" stroke="#000" stroke-width="1.3"/>
<path d="M44.0,239.5h4.5 M44.0,196.1h4.5 M44.0,152.7h4.5 M44.0,109.3h4.5 M44.0,65.9h4.5 M44.0,22.5h4.5 M44.0,217.8h2.3 M44.0,174.4h2.3 M44.0,131.0h2.3 M44.0,87.6h2.3 M44.0,44.2h2.3 M45.8,239.4v-2.1 M51.6,239.4v-2.1 M56.5,239.4v-2.1 M60.9,239.4v-2.1 M64.8,239.4v-4.1 M90.5,239.4v-2.1 M105.6,239.4v-2.1 M116.2,239.4v-2.1 M124.5,239.4v-2.1 M131.3,239.4v-2.1 M137.0,239.4v-2.1 M141.9,239.4v-2.1 M146.3,239.4v-2.1 M150.2,239.4v-4.1 M175.9,239.4v-2.1 M191.0,239.4v-2.1 M201.6,239.4v-2.1 M209.9,239.4v-2.1 M216.7,239.4v-2.1 M222.4,239.4v-2.1 M227.4,239.4v-2.1 M231.7,239.4v-2.1 M235.6,239.4v-4.1 M261.4,239.4v-2.1 M276.4,239.4v-2.1 M287.1,239.4v-2.1 M295.3,239.4v-2.1 M302.1,239.4v-2.1 M307.8,239.4v-2.1 M312.8,239.4v-2.1 M317.2,239.4v-2.1 M321.1,239.4v-4.1" stroke="#000" stroke-width="1.3" fill="none"/>
<text transform="translate(39.1,244.2) scale(1.08,1)" font-size="14" text-anchor="end">0.9</text>
<text transform="translate(39.1,200.8) scale(1.08,1)" font-size="14" text-anchor="end">1.0</text>
<text transform="translate(39.1,157.4) scale(1.08,1)" font-size="14" text-anchor="end">1.1</text>
<text transform="translate(39.1,114.0) scale(1.08,1)" font-size="14" text-anchor="end">1.2</text>
<text transform="translate(39.1,70.6) scale(1.08,1)" font-size="14" text-anchor="end">1.3</text>
<text transform="translate(39.1,27.2) scale(1.08,1)" font-size="14" text-anchor="end">1.4</text>
<text transform="translate(64.8,256.9) scale(1.07,1)" font-size="14" text-anchor="middle">1</text>
<text transform="translate(150.2,256.9) scale(1.07,1)" font-size="14" text-anchor="middle">10</text>
<text transform="translate(235.6,256.9) scale(1.07,1)" font-size="14" text-anchor="middle">100</text>
<text transform="translate(321.1,256.9) scale(1.07,1)" font-size="14" text-anchor="middle">1000</text>
<text transform="translate(192.7,283) scale(1.043,1)" font-size="14" text-anchor="middle">Current density (A/cm<tspan font-size="9.2" dy="-7">2</tspan><tspan dy="7">)</tspan></text>
<text transform="translate(11.8,120.4) rotate(-90) scale(1.07,1)" font-size="13.6" text-anchor="middle">Ratio</text>
<path d="M45,11.9H81" stroke="#555" stroke-width="0.8" fill="none"/>
<rect x="59.699999999999996" y="9.3" width="5.2" height="5.2" fill="#fff" stroke="#555" stroke-width="0.8"/>
<text x="86.7" y="17.3" font-size="16" textLength="34.9" lengthAdjust="spacingAndGlyphs">EQE</text><text x="122.1" y="22.1" font-size="11.5">160 × 10 µm<tspan font-size="7.5" dy="-3.8" dx="0.3">2</tspan></text><text x="194.4" y="17.7" font-size="15">/</text><text x="199.0" y="17.3" font-size="16" textLength="34.9" lengthAdjust="spacingAndGlyphs">EQE</text><text x="235.0" y="22.1" font-size="11.5">160 × 40 µm<tspan font-size="7.5" dy="-3.8" dx="0.3">2</tspan></text>
<path d="M45,37.0H81" stroke="#f55" stroke-width="0.8" fill="none"/>
<rect x="59.699999999999996" y="34.4" width="5.2" height="5.2" fill="#fff" stroke="#f55" stroke-width="0.8"/>
<text x="86.7" y="42.2" font-size="16" textLength="34.9" lengthAdjust="spacingAndGlyphs">EQE</text><text x="121.7" y="47.0" font-size="11.5">80 × 20 µm<tspan font-size="7.5" dy="-3.8" dx="0.3">2</tspan></text><text x="188.2" y="42.6" font-size="15">/</text><text x="192.8" y="42.2" font-size="16" textLength="34.9" lengthAdjust="spacingAndGlyphs">EQE</text><text x="228.9" y="47.0" font-size="11.5">320 × 20 µm<tspan font-size="7.5" dy="-3.8" dx="0.3">2</tspan></text>
</svg>
</body></html>
